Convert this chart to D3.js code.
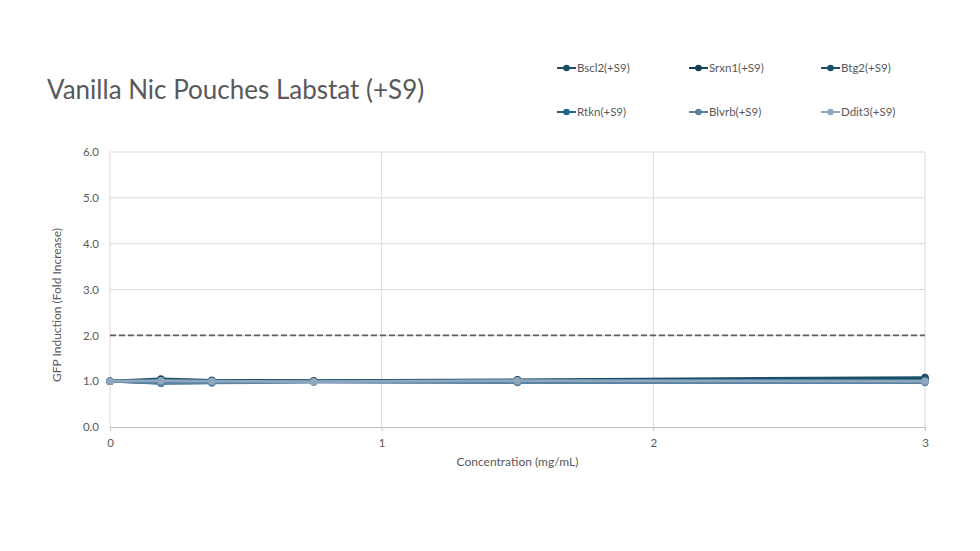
<!DOCTYPE html>
<html>
<head>
<meta charset="utf-8">
<script src="https://cdn.jsdelivr.net/npm/d3@7"></script>
<style>
  body { margin: 0; background: #fff; }
  svg { display: block; font-family: Lato, "Open Sans", sans-serif; }
</style>
</head>
<body>
<script>
'use strict';

// concentrations (mg/mL)
const concentrations = [0, 0.1875, 0.375, 0.75, 1.5, 3];

const seriesNames = ['Bscl2(+S9)', 'Srxn1(+S9)', 'Btg2(+S9)', 'Rtkn(+S9)', 'Blvrb(+S9)', 'Ddit3(+S9)'];
const seriesColors = ['#1d4f66', '#173f58', '#1c5069', '#1f6784', '#5a83a3', '#8fa7be'];

// fold increase
const bscl2 = [1.0, 1.05, 1.02, 1.01, 1.03, 1.08];
const srxn1 = [1.0, 0.96, 0.97, 0.99, 0.98, 1.04];
const btg2  = [1.0, 1.03, 1.01, 1.00, 1.02, 1.06];
const rtkn  = [1.0, 0.98, 0.99, 1.00, 1.00, 1.02];
const blvrb = [1.0, 0.95, 0.96, 0.98, 0.97, 0.97];
const ddit3 = [1.0, 1.01, 1.00, 0.99, 1.01, 1.00];

const seriesValues = [bscl2, srxn1, btg2, rtkn, blvrb, ddit3];

const yTicks = [0, 1, 2, 3, 4, 5, 6];
const xTicks = [0, 1, 2, 3];
const threshold = 2;

const width = 980, height = 551;
const margin = { left: 110, right: 55, top: 152, bottom: 124 };

const svg = d3.select('body').append('svg')
    .attr('width', width)
    .attr('height', height);

const x = d3.scaleLinear().domain([0, 3]).range([margin.left, width - margin.right]);
const y = d3.scaleLinear().domain([0, 6]).range([height - margin.bottom, margin.top]);

const textColor = '#595959';

// title
svg.append('text')
    .attr('x', 47)
    .attr('y', 99)
    .attr('fill', textColor)
    .attr('font-size', 26)
    .text('Vanilla Nic Pouches Labstat (+S9)');

// gridlines
svg.append('g')
  .selectAll('line')
  .data(yTicks.filter(d => d > 0))
  .join('line')
    .attr('x1', x(0)).attr('x2', x(3))
    .attr('y1', d => y(d)).attr('y2', d => y(d))
    .attr('stroke', '#d9d9d9').attr('stroke-width', 1);

svg.append('g')
  .selectAll('line')
  .data(xTicks)
  .join('line')
    .attr('x1', d => x(d)).attr('x2', d => x(d))
    .attr('y1', y(0)).attr('y2', y(6))
    .attr('stroke', '#d9d9d9').attr('stroke-width', 1);

// x axis
const xAxis = svg.append('g')
    .attr('transform', `translate(0,${y(0)})`)
    .call(d3.axisBottom(x).tickValues(xTicks).tickSize(4).tickFormat(d3.format('d')));
xAxis.select('.domain').attr('stroke', '#bfbfbf');
xAxis.selectAll('.tick line').attr('stroke', '#bfbfbf');
xAxis.selectAll('.tick text').attr('fill', textColor).attr('font-size', 11.5)
    .attr('font-family', 'Lato, sans-serif').attr('dy', '1.1em');

// y axis
const yAxis = svg.append('g')
    .attr('transform', `translate(${x(0)},0)`)
    .call(d3.axisLeft(y).tickValues(yTicks).tickSize(0).tickPadding(11).tickFormat(d3.format('.1f')));
yAxis.select('.domain').remove();
yAxis.selectAll('.tick text').attr('fill', textColor).attr('font-size', 11.5)
    .attr('font-family', 'Lato, sans-serif');

// axis titles
svg.append('text')
    .attr('x', (x(0) + x(3)) / 2)
    .attr('y', 466)
    .attr('text-anchor', 'middle')
    .attr('fill', textColor)
    .attr('font-size', 12)
    .text('Concentration (mg/mL)');

svg.append('text')
    .attr('transform', `translate(61,305) rotate(-90)`)
    .attr('text-anchor', 'middle')
    .attr('fill', textColor)
    .attr('font-size', 12)
    .text('GFP Induction (Fold Increase)');

// threshold
svg.append('line')
    .attr('x1', x(0)).attr('x2', x(3))
    .attr('y1', y(threshold)).attr('y2', y(threshold))
    .attr('stroke', '#5f5f5f')
    .attr('stroke-width', 1.6)
    .attr('stroke-dasharray', '6,3');

// series
const line = d3.line()
    .x((d, i) => x(concentrations[i]))
    .y(d => y(d));

const series = svg.append('g')
  .selectAll('g')
  .data(seriesValues)
  .join('g');

series.append('path')
    .attr('d', d => line(d))
    .attr('fill', 'none')
    .attr('stroke', (d, i) => seriesColors[i])
    .attr('stroke-width', 2.75);

series.each(function(vals, si) {
  d3.select(this).selectAll('circle')
    .data(vals)
    .join('circle')
      .attr('cx', (d, i) => x(concentrations[i]))
      .attr('cy', d => y(d))
      .attr('r', 3.7)
      .attr('fill', seriesColors[si]);
});

// legend
const legendCols = [557, 689, 821];
const legendRows = [68, 112];
const legend = svg.append('g')
  .selectAll('g')
  .data(seriesNames)
  .join('g')
    .attr('transform', (d, i) => `translate(${legendCols[i % 3]},${legendRows[Math.floor(i / 3)]})`);

legend.append('line')
    .attr('x1', 0).attr('x2', 19)
    .attr('stroke', (d, i) => seriesColors[i])
    .attr('stroke-width', 2);
legend.append('circle')
    .attr('cx', 9.5).attr('r', 3.3)
    .attr('fill', (d, i) => seriesColors[i]);
legend.append('text')
    .attr('x', 20)
    .attr('dy', '0.35em')
    .attr('fill', textColor)
    .attr('font-size', 11.5)
    .text(d => d);
</script>
</body>
</html>
